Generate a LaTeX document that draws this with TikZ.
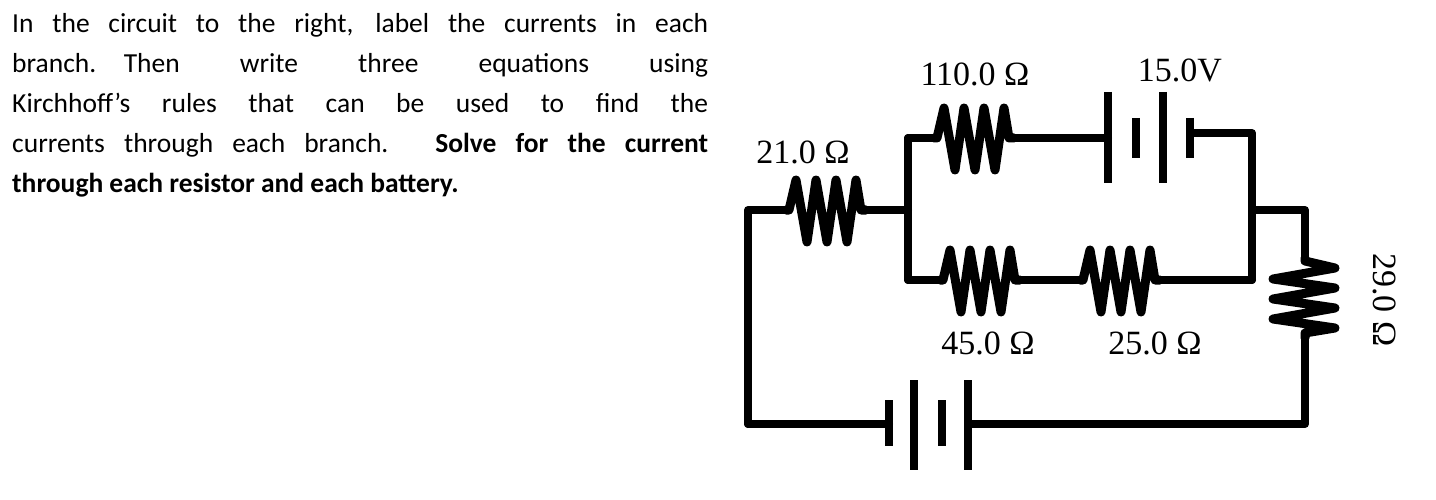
\documentclass[tikz,border=0pt]{standalone}
\usepackage{fontspec}
\setmainfont{Carlito}
\newfontfamily\serif{Liberation Serif}
\tikzset{
  wire/.style={line width=8pt,line cap=round,line join=round},
  lbl/.style={font=\serif\fontsize{34}{34}\selectfont,inner sep=0pt},
  plate/.style={line width=8pt},
  pics/res/.style={code={\draw[wire,line width=9pt] (0,0)--(3,0)--(10,-30)--(21,32)--(30,-30)--(41,32)--(50,-30)--(61,32)--(70,-30)--(75,0)--(80,0);}}
}
\begin{document}
\begin{tikzpicture}[x=1pt,y=-1pt]
\useasboundingbox (0,0) rectangle (1436,500);
\node[anchor=north west,inner sep=0pt,text width=696pt,align=justify,font=\fontsize{27.5}{40}\selectfont] (txt) at (12,13)
{In the circuit to the right, label the currents in each\linebreak branch.\quad Then write three equations using\linebreak Kirchhoff’s rules that can be used to find the\linebreak currents through each branch. \textbf{Solve for the current}\linebreak \textbf{through each resistor and each battery.}};
% coordinates
\coordinate (TL) at (748,210);
\coordinate (R1a) at (786,210); \coordinate (R1b) at (866,210);
\coordinate (J1) at (908,210);
\coordinate (J1t) at (908,138); \coordinate (J1b) at (908,280);
\coordinate (R2a) at (934,138); \coordinate (R2b) at (1014,138);
\coordinate (B1a) at (1108,138); \coordinate (B1b) at (1190,133);
\coordinate (J2t) at (1252,133); \coordinate (J2b) at (1252,280);
\coordinate (J2) at (1252,210);
\coordinate (R3a) at (940,280); \coordinate (R3b) at (1020,280);
\coordinate (R4a) at (1080,280); \coordinate (R4b) at (1160,280);
\coordinate (RT) at (1305,210);
\coordinate (R5a) at (1305,258); \coordinate (R5b) at (1305,338);
\coordinate (BR) at (1305,424);
\coordinate (B2b) at (968,424); \coordinate (B2a) at (889,424);
\coordinate (BL) at (748,424);
% wires
\draw[wire] (BL)--(TL)--(R1a);
\draw[wire] (R1b)--(J1);
\draw[wire] (J1t)--(J1b);
\draw[wire] (J1t)--(R2a); \draw[wire] (R2b)--(B1a);
\draw[wire] (B1b)--(J2t)--(J2b);
\draw[wire] (J1b)--(R3a); \draw[wire] (R3b)--(R4a); \draw[wire] (R4b)--(J2b);
\draw[wire] (J2)--(RT)--(R5a);
\draw[wire] (R5b)--(BR)--(B2b);
\draw[wire] (B2a)--(BL);
% resistors
\pic at (R1a) {res};
\pic at (R2a) {res};
\pic at (R3a) {res};
\pic at (R4a) {res};
\pic[rotate=-90] at (R5a) {res};
% battery 1
\draw[plate] (1108,92)--(1108,183);
\draw[plate] (1136,118)--(1136,158);
\draw[plate] (1163,92)--(1163,183);
\draw[plate] (1190,118)--(1190,158);
% battery 2
\draw[plate] (889,400)--(889,446);
\draw[plate] (914,380)--(914,470);
\draw[plate] (942,400)--(942,446);
\draw[plate] (968,380)--(968,470);
% labels
\node[lbl] (l1) at (803,152) {21.0 Ω};
\node[lbl] (l2) at (975,74) {110.0 Ω};
\node[lbl] (l3) at (1180,70) {15.0V};
\node[lbl] (l4) at (988,343) {45.0 Ω};
\node[lbl] (l5) at (1155,343) {25.0 Ω};
\node[lbl,rotate=-90] (l6) at (1385,300) {29.0 Ω};
\end{tikzpicture}
\end{document}
